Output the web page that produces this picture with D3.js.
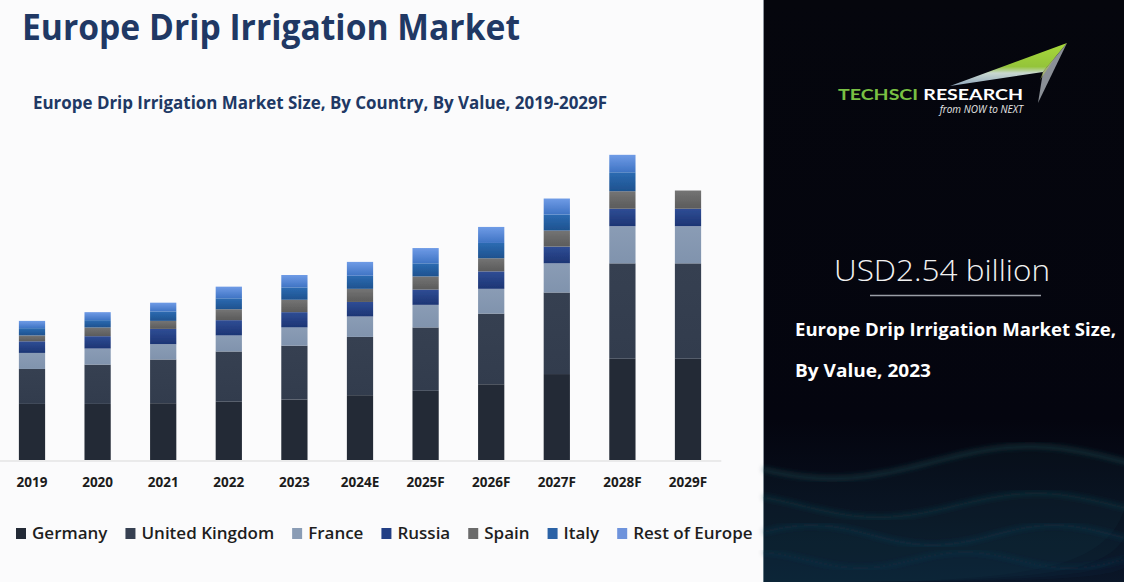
<!DOCTYPE html>
<html>
<head>
<meta charset="utf-8">
<script src="https://cdn.jsdelivr.net/npm/d3@7"></script>
<style>
  body { margin: 0; background: #fbfbfc; }
  svg { display: block; }
</style>
</head>
<body>
<script>
// 데이터 (USD billion)
const years = ['2019', '2020', '2021', '2022', '2023', '2024E', '2025F', '2026F', '2027F', '2028F', '2029F'];
const countries = ['Germany', 'United Kingdom', 'France', 'Russia', 'Spain', 'Italy', 'Rest of Europe'];

const germany = [0.77, 0.77, 0.78, 0.80, 0.83, 0.89, 0.95, 1.04, 1.18, 1.39, 1.39];
const unitedKingdom = [0.48, 0.54, 0.60, 0.69, 0.74, 0.80, 0.87, 0.97, 1.12, 1.31, 1.31];
const france = [0.22, 0.22, 0.21, 0.22, 0.25, 0.28, 0.31, 0.34, 0.40, 0.51, 0.51];
const russia = [0.16, 0.17, 0.21, 0.21, 0.21, 0.20, 0.21, 0.24, 0.23, 0.24, 0.24];
const spain = [0.08, 0.12, 0.11, 0.15, 0.17, 0.18, 0.18, 0.18, 0.22, 0.24, 0.25];
const italy = [0.10, 0.10, 0.13, 0.15, 0.17, 0.18, 0.18, 0.21, 0.22, 0.26, 0];
const restOfEurope = [0.10, 0.11, 0.12, 0.16, 0.17, 0.19, 0.21, 0.22, 0.22, 0.24, 0];

const seriesValues = [germany, unitedKingdom, france, russia, spain, italy, restOfEurope];

const headline = 'USD2.54 billion';
const headlineNote = ['Europe Drip Irrigation Market Size,', 'By Value, 2023'];

function renderSVG() {
    const width = 1124;
    const height = 582;
    const panelX = 763;
    const baseY = 460;

    const svg = d3.select('body').append('svg')
        .attr('width', width)
        .attr('height', height);

    const defs = svg.append('defs');

    // 색상 (단색 + 윗부분 그라데이션)
    const colors = {
        'Germany': ['#232a36', '#232a36'],
        'United Kingdom': ['#364051', '#323c4d'],
        'France': ['#8a9cb5', '#8093ad'],
        'Russia': ['#2f4d95', '#1d3574'],
        'Spain': ['#747474', '#5b5b5b'],
        'Italy': ['#2c6bb2', '#1e528f'],
        'Rest of Europe': ['#6f9be6', '#3f74c4']
    };
    const legendColors = ['#232a36', '#364051', '#8a9cb5', '#223f85', '#6b6b6b', '#2b62a6', '#6e93dc'];

    countries.forEach((c, i) => {
        const g = defs.append('linearGradient')
            .attr('id', 'grad' + i)
            .attr('x1', 0).attr('y1', 0).attr('x2', 0).attr('y2', 1);
        g.append('stop').attr('offset', '0%').attr('stop-color', colors[c][0]);
        g.append('stop').attr('offset', '100%').attr('stop-color', colors[c][1]);
    });

    defs.append('filter').attr('id', 'soft')
        .append('feGaussianBlur').attr('stdDeviation', 0.7);
    defs.append('filter').attr('id', 'haze')
        .append('feGaussianBlur').attr('stdDeviation', 2.5);

    // 배경
    svg.append('rect')
        .attr('width', panelX).attr('height', height)
        .attr('fill', '#fbfbfc');

    // ==================================================
    // 오른쪽 패널
    // ==================================================
    const panelGrad = defs.append('linearGradient')
        .attr('id', 'panelGrad')
        .attr('x1', 0).attr('y1', 0).attr('x2', 0).attr('y2', 1);
    panelGrad.append('stop').attr('offset', '0%').attr('stop-color', '#05060d');
    panelGrad.append('stop').attr('offset', '72%').attr('stop-color', '#04050f');
    panelGrad.append('stop').attr('offset', '100%').attr('stop-color', '#0a1628');

    svg.append('rect')
        .attr('x', panelX).attr('y', 0)
        .attr('width', width - panelX).attr('height', height)
        .attr('fill', 'url(#panelGrad)');
    svg.append('line')
        .attr('x1', panelX + 0.5).attr('x2', panelX + 0.5)
        .attr('y1', 0).attr('y2', height)
        .attr('stroke', '#8d939c').attr('stroke-width', 1);

    // 물결 장식
    const waveX = d3.range(panelX, width + 6, 6);
    const waves = [
        { base: 462, amp: 16, freq: 0.016, phase: 3.6, color: '#1d5158', op: 0.5 },
        { base: 505, amp: 12, freq: 0.02, phase: 2.4, color: '#1a4a55', op: 0.4 },
        { base: 535, amp: 10, freq: 0.026, phase: 0.3, color: '#174258', op: 0.4 },
        { base: 560, amp: 8, freq: 0.03, phase: 1.8, color: '#163c55', op: 0.35 }
    ];
    const waveLine = d3.line().curve(d3.curveBasis);
    waves.forEach(w => {
        const pts = waveX.map(x => [x, w.base - w.amp * Math.sin((x - panelX) * w.freq + w.phase)]);
        svg.append('path')
            .attr('d', waveLine(pts.concat([[width, height], [panelX, height]])))
            .attr('fill', w.color)
            .attr('fill-opacity', 0.1);
        svg.append('path')
            .attr('d', waveLine(pts))
            .attr('fill', 'none')
            .attr('stroke', w.color)
            .attr('stroke-width', 4)
            .attr('stroke-opacity', w.op)
            .attr('filter', 'url(#haze)');
    });

    // 로고
    const logoGreen = defs.append('linearGradient')
        .attr('id', 'logoGreen')
        .attr('x1', 0).attr('y1', 0).attr('x2', 0).attr('y2', 1);
    logoGreen.append('stop').attr('offset', '0%').attr('stop-color', '#a8d93a');
    logoGreen.append('stop').attr('offset', '55%').attr('stop-color', '#94c43a');
    logoGreen.append('stop').attr('offset', '70%').attr('stop-color', '#c9d8d0');
    logoGreen.append('stop').attr('offset', '100%').attr('stop-color', '#8fa6bd');

    svg.append('path')
        .attr('d', 'M950,86 L1067,43 L1043,72 Z')
        .attr('fill', 'url(#logoGreen)');
    svg.append('path')
        .attr('d', 'M1043,72 L1067,43 L1038,103 Z')
        .attr('fill', '#8a8f96');
    svg.append('path')
        .attr('d', 'M1043,72 L1056,56 L1040,80 Z')
        .attr('fill', '#b8c95c').attr('opacity', 0.6);

    const logo = svg.append('text')
        .attr('x', 838).attr('y', 100)
        .attr('font-family', 'Lato, "Open Sans", sans-serif')
        .attr('font-weight', 'bold')
        .attr('font-size', 15)
        .attr('textLength', 185)
        .attr('lengthAdjust', 'spacingAndGlyphs');
    logo.append('tspan').attr('fill', '#79c043').text('TECHSCI');
    logo.append('tspan').attr('fill', '#ffffff').attr('dx', 4).text('RESEARCH');

    svg.append('text')
        .attr('x', 1023).attr('y', 113)
        .attr('text-anchor', 'end')
        .attr('font-family', '"Open Sans", sans-serif')
        .attr('font-style', 'italic')
        .attr('font-size', 10)
        .attr('fill', '#e8e8e8')
        .text('from NOW to NEXT');

    // 헤드라인 숫자
    svg.append('text')
        .attr('x', 942).attr('y', 281)
        .attr('text-anchor', 'middle')
        .attr('font-family', '"Open Sans", sans-serif')
        .attr('font-weight', 300)
        .attr('font-size', 29)
        .attr('textLength', 216)
        .attr('lengthAdjust', 'spacingAndGlyphs')
        .attr('fill', '#f2f2f2')
        .text(headline);

    svg.append('line')
        .attr('x1', 870).attr('x2', 1041)
        .attr('y1', 295.5).attr('y2', 295.5)
        .attr('stroke', '#9a9ea6').attr('stroke-width', 1.5);

    svg.selectAll('text.note')
        .data(headlineNote)
        .enter()
        .append('text')
        .attr('class', 'note')
        .attr('x', 795)
        .attr('y', (d, i) => 336 + i * 41)
        .attr('font-family', '"Open Sans", sans-serif')
        .attr('font-weight', 'bold')
        .attr('font-size', 17)
        .attr('textLength', (d, i) => i === 0 ? 321 : 136)
        .attr('lengthAdjust', 'spacingAndGlyphs')
        .attr('fill', '#ffffff')
        .text(d => d);

    // ==================================================
    // 제목
    // ==================================================
    svg.append('text')
        .attr('x', 22).attr('y', 40)
        .attr('font-family', '"Open Sans", sans-serif')
        .attr('font-weight', 'bold')
        .attr('font-size', 36)
        .attr('textLength', 498)
        .attr('lengthAdjust', 'spacingAndGlyphs')
        .attr('fill', '#203864')
        .text('Europe Drip Irrigation Market');

    svg.append('text')
        .attr('x', 33).attr('y', 109)
        .attr('font-family', '"Open Sans", sans-serif')
        .attr('font-weight', 'bold')
        .attr('font-size', 17)
        .attr('textLength', 574)
        .attr('lengthAdjust', 'spacingAndGlyphs')
        .attr('fill', '#203864')
        .text('Europe Drip Irrigation Market Size, By Country, By Value, 2019-2029F');

    // ==================================================
    // 스케일
    // ==================================================
    const x = d3.scaleBand()
        .domain(years)
        .range([-0.8, 720.8])
        .paddingInner(0.6)
        .paddingOuter(0.3);

    const y = d3.scaleLinear()
        .domain([0, 2.54])
        .range([baseY, 275]);

    const rows = years.map((yr, j) => {
        const row = { year: yr };
        countries.forEach((c, i) => { row[c] = seriesValues[i][j]; });
        return row;
    });
    const stacked = d3.stack().keys(countries)(rows);

    // ==================================================
    // 막대
    // ==================================================
    const layers = svg.append('g').selectAll('g.layer')
        .data(stacked)
        .enter()
        .append('g')
        .attr('class', 'layer')
        .attr('fill', (d, i) => `url(#grad${i})`)
        .attr('filter', (d, i) => i >= 3 ? 'url(#soft)' : null);

    layers.selectAll('rect')
        .data(d => d.filter(s => s[1] - s[0] > 0))
        .enter()
        .append('rect')
        .attr('x', d => x(d.data.year))
        .attr('y', d => y(d[1]))
        .attr('width', x.bandwidth())
        .attr('height', d => y(d[0]) - y(d[1]));

    // ==================================================
    // X축
    // ==================================================
    const xAxis = d3.axisBottom(x).tickSize(0).tickPadding(17);
    const axisG = svg.append('g')
        .attr('transform', `translate(0, ${baseY + 0.5})`)
        .call(xAxis);
    axisG.select('.domain')
        .attr('stroke', '#d9d9d9')
        .attr('stroke-width', 1);
    axisG.selectAll('text')
        .attr('font-family', '"Open Sans", sans-serif')
        .attr('font-weight', 'bold')
        .attr('font-size', 13.5)
        .attr('fill', '#1b1b1b');

    // ==================================================
    // 범례
    // ==================================================
    const legend = svg.append('g').attr('transform', 'translate(16, 533)');
    let lx = 0;
    countries.forEach((c, i) => {
        const item = legend.append('g').attr('transform', `translate(${lx}, 0)`);
        item.append('rect')
            .attr('x', 0).attr('y', -5)
            .attr('width', 10).attr('height', 11)
            .attr('fill', legendColors[i]);
        const t = item.append('text')
            .attr('x', 16).attr('y', 6)
            .attr('font-family', '"Open Sans", sans-serif')
            .attr('font-weight', 600)
            .attr('font-size', 17)
            .attr('fill', '#1e1e1e')
            .text(c);
        const tw = t.node().getComputedTextLength();
        lx += 16 + tw + 18;
    });
}

window.addEventListener('load', function() {
    requestAnimationFrame(renderSVG);
});
</script>
</body>
</html>
